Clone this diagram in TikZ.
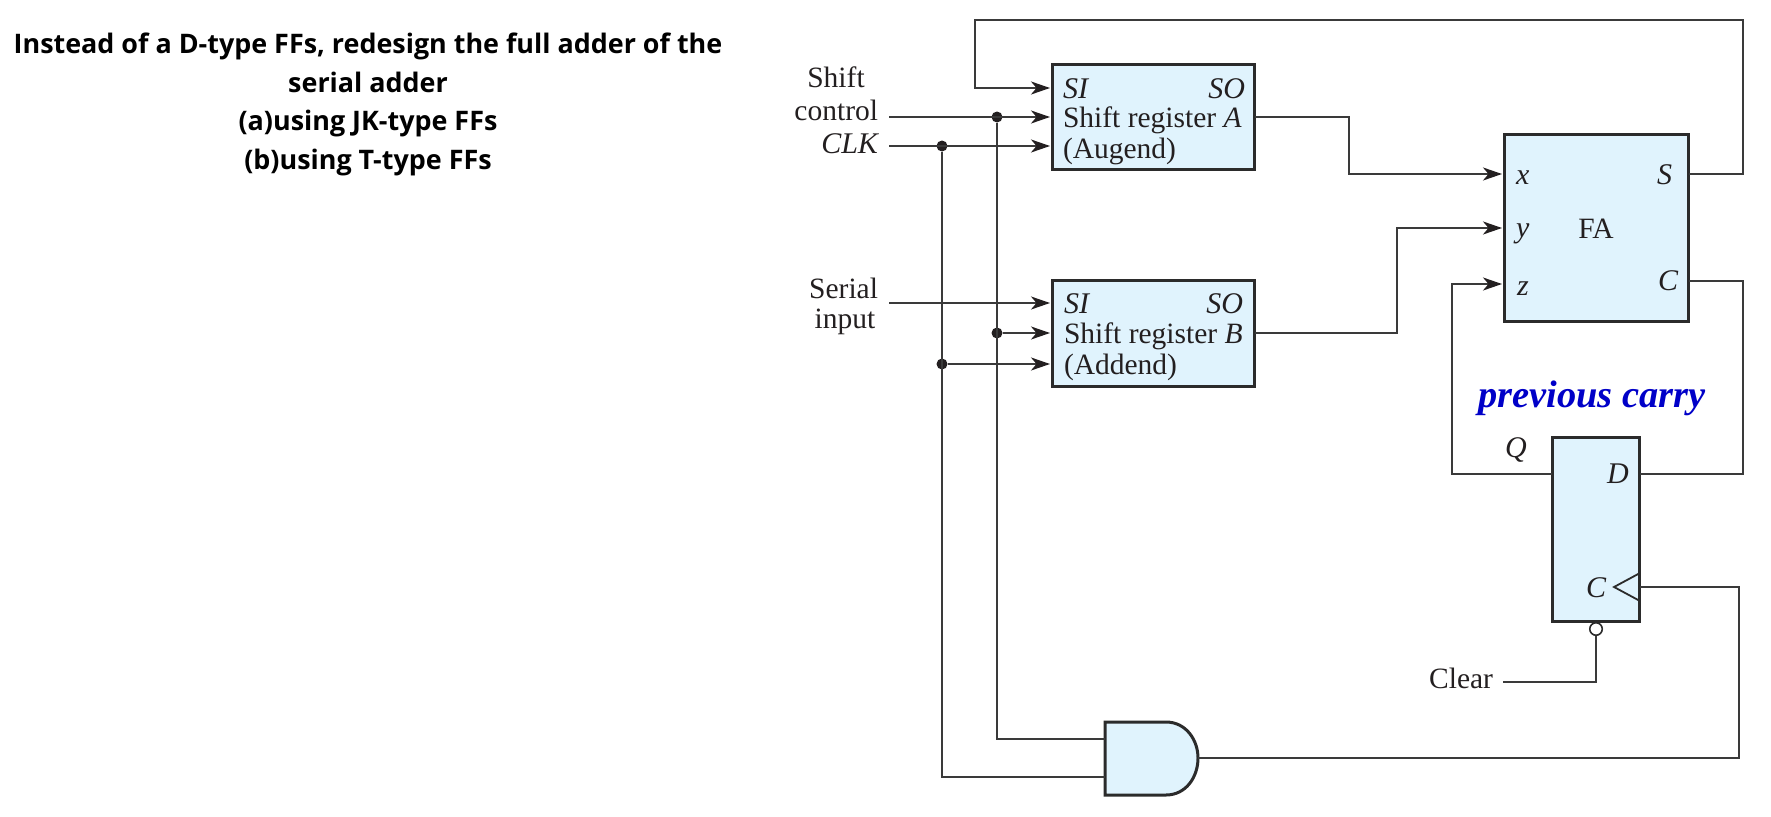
\documentclass[tikz,border=0pt]{standalone}
\usepackage{fontspec}
\setmainfont{Liberation Serif}
\newfontfamily\titlefont{Open Sans}
\usetikzlibrary{arrows.meta}
\tikzset{
  x=1pt,y=-1pt,
  wire/.style={draw=wirecol,line width=2pt,line join=miter},
  arr/.style={wire,-{Stealth[length=19pt,width=13pt,inset=5.5pt,color=arrcol]},shorten >=2pt},
  block/.style={draw=boxcol,fill=boxfill,line width=3pt,rectangle,inner sep=0pt,outer sep=0pt},
  lab/.style={inner sep=0pt,outer sep=0pt,text=txtcol,font=\fontsize{29.5}{30}\selectfont},
  il/.style={lab,font=\fontsize{30}{30}\selectfont\itshape},
  jdot/.style={circle,fill=arrcol,inner sep=0pt,minimum size=11pt},
  ttl/.style={inner sep=0pt,outer sep=0pt,anchor=base,text=black,font=\titlefont\bfseries\fontsize{26.9}{30}\selectfont}
}
\definecolor{wirecol}{HTML}{3A3A3A}
\definecolor{arrcol}{HTML}{231F20}
\definecolor{boxcol}{HTML}{2B2B2B}
\definecolor{boxfill}{HTML}{E0F3FD}
\definecolor{txtcol}{HTML}{231F20}
\definecolor{carryblue}{HTML}{0000C8}
\begin{document}
\begin{tikzpicture}
\useasboundingbox (0,0) rectangle (1771,816);
% title
\node[ttl] (t1) at (368,53.5) {Instead of a D-type FFs, redesign the full adder of the};
\node[ttl] (t2) at (368,92.5) {serial adder};
\node[ttl] (t3) at (368,130.5) {(a)using JK-type FFs};
\node[ttl] (t4) at (368,169.5) {(b)using T-type FFs};
% blocks
\node[block,minimum width=202pt,minimum height=105.6pt] (ra) at (1153.5,117) {};
\node[block,minimum width=202pt,minimum height=105.3pt] (rb) at (1153.5,333.5) {};
\node[block,minimum width=183.5pt,minimum height=187pt] (fa) at (1596.5,228) {};
\node[block,minimum width=87.5pt,minimum height=184.2pt] (ff) at (1596,529.2) {};
% AND gate
\coordinate (gTL) at (1105,722);
\coordinate (gBL) at (1105,795);
\coordinate (gOut) at (1198,758);
\coordinate (gIn1) at (1105,739);
\coordinate (gIn2) at (1105,777);
\path[block] (gTL) -- (1166,722) .. controls (1186,722) and (1198,740) .. (gOut)
   .. controls (1198,777) and (1186,795) .. (1166,795) -- (gBL) -- cycle;
% free ends and bends
\coordinate (cShift) at (889,117);
\coordinate (cClk) at (889,146);
\coordinate (cSer) at (889,303);
\coordinate (cClr) at (1503,682);
\coordinate (aSI) at (1052,88);
\coordinate (aSh) at (1052,117);
\coordinate (aCk) at (1052,146);
\coordinate (bSI) at (1052,303);
\coordinate (bSh) at (1052,333);
\coordinate (bCk) at (1052,364);
\coordinate (aSO) at (1255,117);
\coordinate (bSO) at (1255,333);
\coordinate (fx) at (1504,174);
\coordinate (fy) at (1504,228);
\coordinate (fz) at (1504,284);
\coordinate (fS) at (1689,174);
\coordinate (fC) at (1689,281);
\coordinate (ffQ) at (1552,474);
\coordinate (ffD) at (1640,474);
\coordinate (ffC) at (1640,587);
% junctions
\node[jdot] (j1) at (997,117) {};
\node[jdot] (j2) at (942,146) {};
\node[jdot] (j3) at (997,333) {};
\node[jdot] (j4) at (942,364) {};
% wires
\draw[arr] (fS) -- (1743,174) -- (1743,20) -- (975,20) -- (975,88) -- (aSI);
\draw[arr] (cShift) -- (aSh);
\draw[arr] (cClk) -- (aCk);
\draw[arr] (cSer) -- (bSI);
\draw[arr] (j3) -- (bSh);
\draw[arr] (j4) -- (bCk);
\draw[wire] (j1) |- (gIn1);
\draw[wire] (j2) |- (gIn2);
\draw[arr] (aSO) -- (1349,117) -- (1349,174) -- (fx);
\draw[arr] (bSO) -- (1397,333) -- (1397,228) -- (fy);
\draw[arr] (ffQ) -- (1452,474) -- (1452,284) -- (fz);
\draw[wire] (fC) -- (1743,281) -- (1743,474) -- (ffD);
\draw[wire] (gOut) -- (1739,758) -- (1739,587) -- (ffC);
% clock triangle
\draw[draw=boxcol,line width=1.8pt] (1640,573) -- (1614,587) -- (1640,601);
% clear bubble
\node[circle,draw=boxcol,fill=white,line width=1.6pt,minimum size=12.5pt,inner sep=0pt] (bub) at (1596,629) {};
\draw[wire] (cClr) -| (bub.south);
% labels
\node[lab,anchor=base] (l1) at (836,88) {Shift};
\node[lab,anchor=base east] (l2) at (878,120) {control};
\node[il,anchor=base east] (l3) at (878,153) {CLK};
\node[lab,anchor=base east] (l4) at (878,298) {Serial};
\node[lab,anchor=base] (l5) at (845,328) {input};
\node[il,anchor=base west] (a1) at (1063,98) {SI};
\node[il,anchor=base east] (a2) at (1245,98) {SO};
\node[lab,anchor=base west] (a3) at (1063,127) {Shift register \textit{A}};
\node[lab,anchor=base west] (a4) at (1063,158) {(Augend)};
\node[il,anchor=base west] (b1) at (1064,313) {SI};
\node[il,anchor=base east] (b2) at (1243,313) {SO};
\node[lab,anchor=base west] (b3) at (1064,343) {Shift register \textit{B}};
\node[lab,anchor=base west] (b4) at (1064,374) {(Addend)};
\node[il,anchor=base west] (f1) at (1516,184) {x};
\node[il,anchor=base west] (f2) at (1516,237) {y};
\node[il,anchor=base west] (f3) at (1517,295) {z};
\node[il,anchor=base east] (f4) at (1672,184) {S};
\node[il,anchor=base east] (f5) at (1678,290) {C};
\node[lab,anchor=base] (f6) at (1596,238) {FA};
\node[il,anchor=base] (q1) at (1516,457) {Q};
\node[il,anchor=base] (q2) at (1618,483) {D};
\node[il,anchor=base] (q3) at (1596,597) {C};
\node[lab,anchor=base east] (clr) at (1493,688) {Clear};
\node[inner sep=0pt,anchor=base,text=carryblue,font=\fontsize{38.4}{40}\selectfont\bfseries\itshape] (pc) at (1592,407) {previous carry};
\end{tikzpicture}
\end{document}
